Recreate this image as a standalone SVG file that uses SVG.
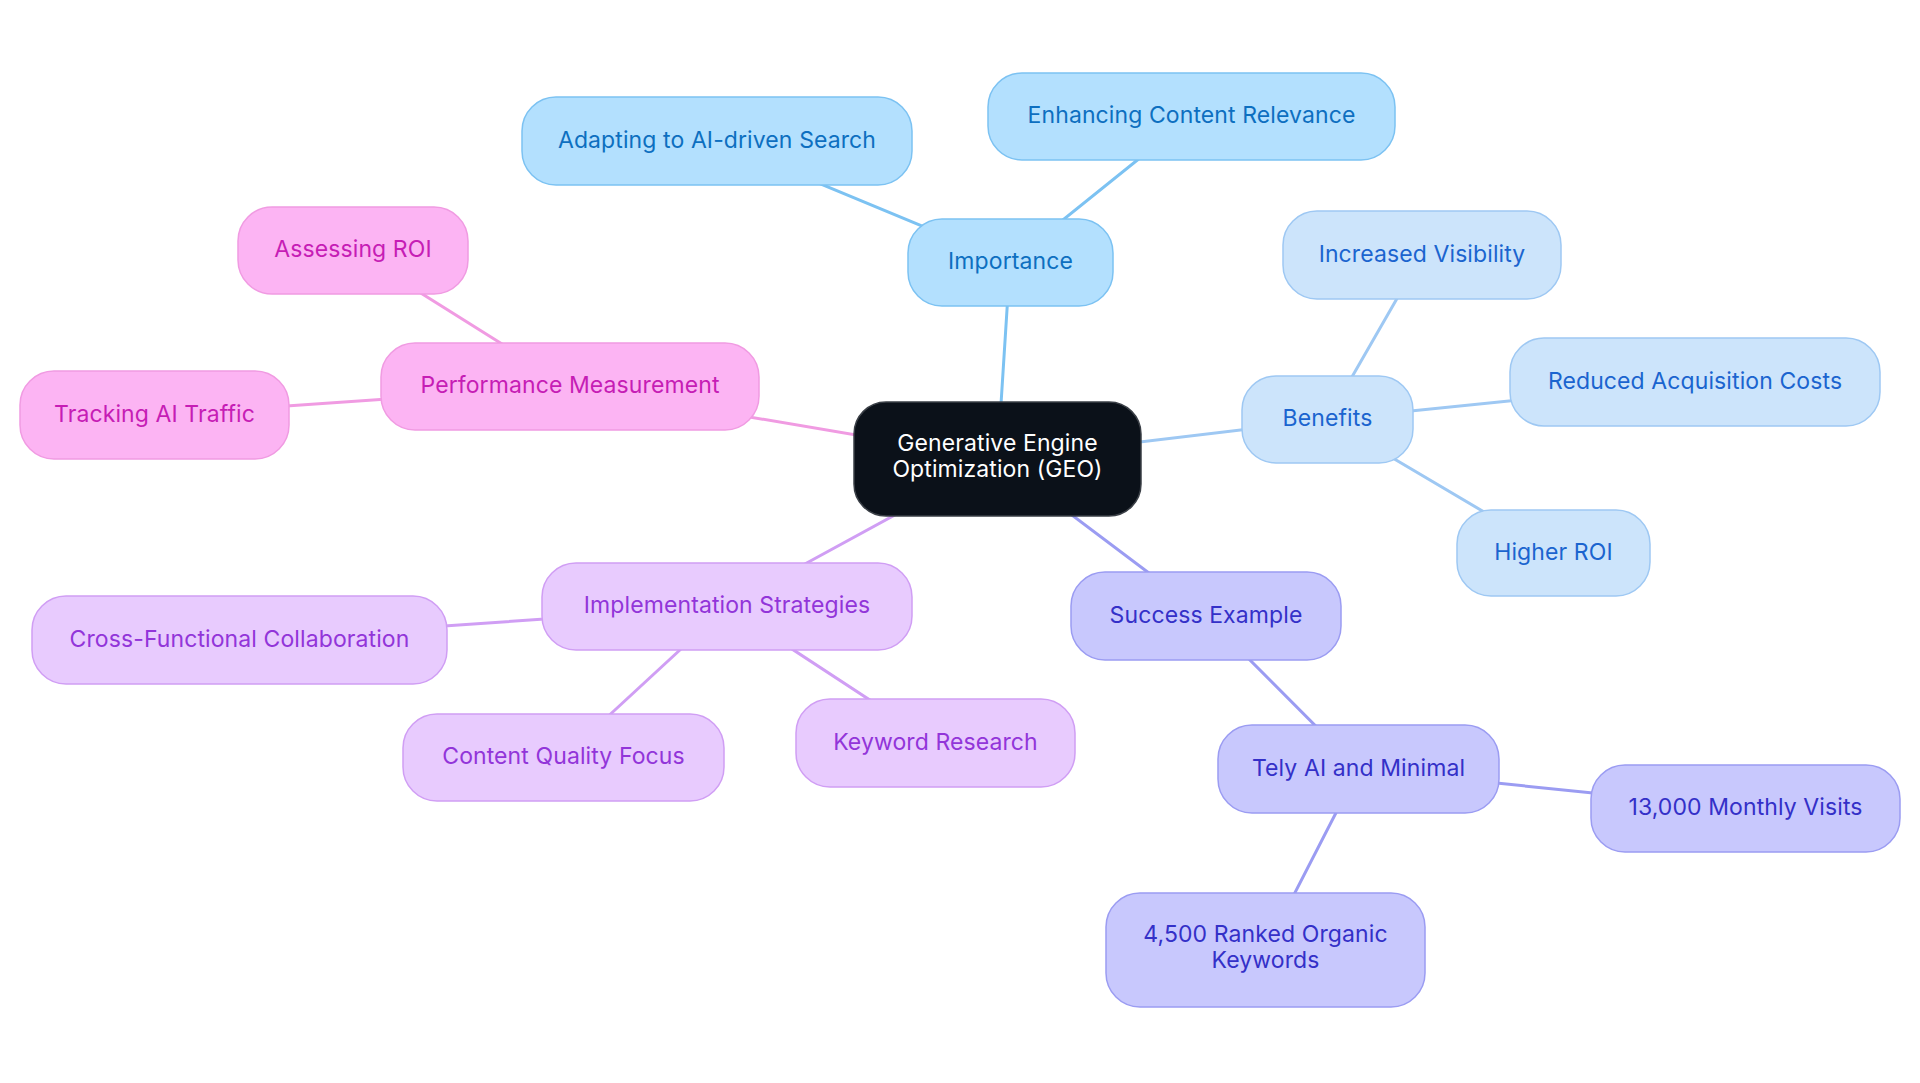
<svg xmlns="http://www.w3.org/2000/svg" width="1920" height="1083" viewBox="0 0 1920 1083">
<style>
text{font-family:Inter,"Noto Sans","Liberation Sans",sans-serif;font-size:23px;text-anchor:middle;letter-spacing:0.1px}
.e{stroke-width:3;fill:none;stroke-linecap:round}
.n{stroke-width:1.5}
.c rect{fill:#0b1119;stroke:#3a3f46}.c text{fill:#ffffff}
.imp rect{fill:#b3e0fe;stroke:#7cc2f2}.imp text{fill:#0d6fc0}
.ben rect{fill:#cce4fb;stroke:#9ec8f3}.ben text{fill:#1b64cf}
.suc rect{fill:#c8c8fd;stroke:#9b9cf2}.suc text{fill:#3430c8}
.str rect{fill:#e8cbfe;stroke:#d09ef4}.str text{fill:#9235d9}
.per rect{fill:#fcb4f3;stroke:#f09be2}.per text{fill:#c61db5}
.ei{stroke:#7cc2f2}.eb{stroke:#9ec8f3}.es{stroke:#9b9cf2}.et{stroke:#d09ef4}.ep{stroke:#f09be2}
</style>
<rect width="1920" height="1083" fill="#ffffff"/>
<g id="connectors">
<line class="e ei" x1="997.5" y1="459" x2="1010" y2="262.5"/>
<line class="e ei" x1="1010" y1="262.5" x2="717" y2="141"/>
<line class="e ei" x1="1010" y1="262.5" x2="1191.5" y2="116.5"/>
<line class="e eb" x1="997.5" y1="459" x2="1327.5" y2="419.5"/>
<line class="e eb" x1="1327.5" y1="419.5" x2="1422" y2="255"/>
<line class="e eb" x1="1327.5" y1="419.5" x2="1695" y2="382"/>
<line class="e eb" x1="1327.5" y1="419.5" x2="1553.5" y2="553"/>
<line class="e es" x1="997.5" y1="459" x2="1206" y2="616"/>
<line class="e es" x1="1206" y1="616" x2="1358.5" y2="769"/>
<line class="e es" x1="1358.5" y1="769" x2="1745.5" y2="808.5"/>
<line class="e es" x1="1358.5" y1="769" x2="1265.5" y2="950"/>
<line class="e et" x1="997.5" y1="459" x2="727" y2="606.5"/>
<line class="e et" x1="727" y1="606.5" x2="239.5" y2="640"/>
<line class="e et" x1="727" y1="606.5" x2="563.5" y2="757.5"/>
<line class="e et" x1="727" y1="606.5" x2="935.5" y2="743"/>
<line class="e ep" x1="997.5" y1="459" x2="570" y2="386.5"/>
<line class="e ep" x1="570" y1="386.5" x2="353" y2="250.5"/>
<line class="e ep" x1="570" y1="386.5" x2="154.5" y2="415"/>
</g>
<g id="n-central" class="c"><rect class="n" x="854" y="402" width="287" height="114" rx="32"/><text x="997.5" y="451">Generative Engine</text><text x="997.5" y="477">Optimization (GEO)</text></g>
<g id="n-importance" class="imp"><rect class="n" x="908" y="219" width="205" height="87" rx="34"/><text x="1010.5" y="269">Importance</text></g>
<g id="n-adapting" class="imp"><rect class="n" x="522" y="97" width="390" height="88" rx="34"/><text x="717" y="147.5">Adapting to AI-driven Search</text></g>
<g id="n-enhancing" class="imp"><rect class="n" x="988" y="73" width="407" height="87" rx="34"/><text x="1191.5" y="123">Enhancing Content Relevance</text></g>
<g id="n-benefits" class="ben"><rect class="n" x="1242" y="376" width="171" height="87" rx="34"/><text x="1327.5" y="426">Benefits</text></g>
<g id="n-visibility" class="ben"><rect class="n" x="1283" y="211" width="278" height="88" rx="34"/><text x="1422" y="261.5">Increased Visibility</text></g>
<g id="n-costs" class="ben"><rect class="n" x="1510" y="338" width="370" height="88" rx="34"/><text x="1695" y="388.5">Reduced Acquisition Costs</text></g>
<g id="n-roi" class="ben"><rect class="n" x="1457" y="510" width="193" height="86" rx="34"/><text x="1553.5" y="559.5">Higher ROI</text></g>
<g id="n-success" class="suc"><rect class="n" x="1071" y="572" width="270" height="88" rx="34"/><text x="1206" y="622.5">Success Example</text></g>
<g id="n-tely" class="suc"><rect class="n" x="1218" y="725" width="281" height="88" rx="34"/><text x="1358.5" y="775.5">Tely AI and Minimal</text></g>
<g id="n-visits" class="suc"><rect class="n" x="1591" y="765" width="309" height="87" rx="34"/><text x="1745.5" y="815">13,000 Monthly Visits</text></g>
<g id="n-keywords" class="suc"><rect class="n" x="1106" y="893" width="319" height="114" rx="34"/><text x="1265.5" y="942">4,500 Ranked Organic</text><text x="1265.5" y="968">Keywords</text></g>
<g id="n-strategies" class="str"><rect class="n" x="542" y="563" width="370" height="87" rx="34"/><text x="727" y="613">Implementation Strategies</text></g>
<g id="n-cross" class="str"><rect class="n" x="32" y="596" width="415" height="88" rx="34"/><text x="239.5" y="646.5">Cross-Functional Collaboration</text></g>
<g id="n-quality" class="str"><rect class="n" x="403" y="714" width="321" height="87" rx="34"/><text x="563.5" y="764">Content Quality Focus</text></g>
<g id="n-research" class="str"><rect class="n" x="796" y="699" width="279" height="88" rx="34"/><text x="935.5" y="749.5">Keyword Research</text></g>
<g id="n-performance" class="per"><rect class="n" x="381" y="343" width="378" height="87" rx="34"/><text x="570" y="393">Performance Measurement</text></g>
<g id="n-assessing" class="per"><rect class="n" x="238" y="207" width="230" height="87" rx="34"/><text x="353" y="257">Assessing ROI</text></g>
<g id="n-tracking" class="per"><rect class="n" x="20" y="371" width="269" height="88" rx="34"/><text x="154.5" y="421.5">Tracking AI Traffic</text></g>
</svg>
